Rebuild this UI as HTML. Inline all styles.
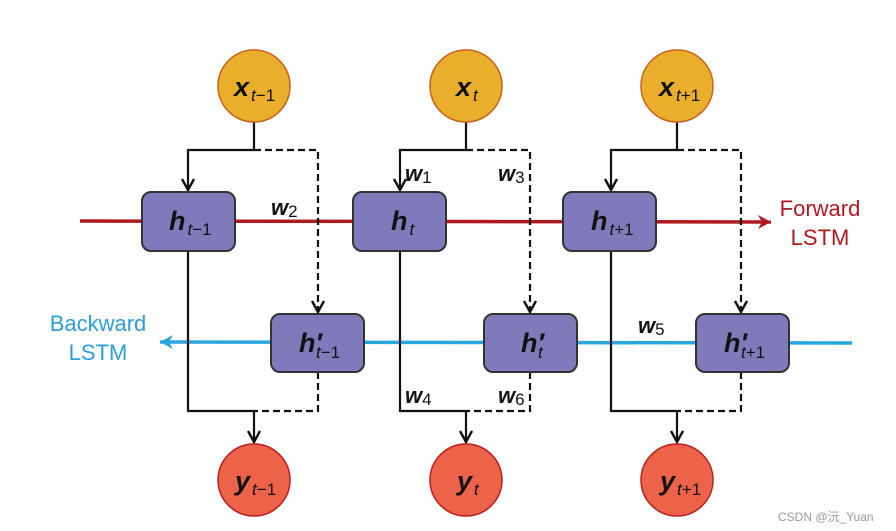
<!DOCTYPE html>
<html><head><meta charset="utf-8"><style>
body{margin:0;background:#fff}
svg{display:block}
text{font-family:"Liberation Sans",Arial,sans-serif}
.b{font-weight:bold;font-style:italic;font-size:27px;fill:#111}
.s{font-style:italic;font-weight:normal;font-size:17px;fill:#111}
.sn{font-style:normal;font-weight:normal;font-size:17px;fill:#111}
.w{font-weight:bold;font-style:italic;font-size:22px;fill:#111}
</style></head><body>
<svg width="896" height="531" viewBox="0 0 896 531" xmlns="http://www.w3.org/2000/svg">
<defs>
<marker id="ak" markerWidth="16" markerHeight="16" refX="12" refY="7" orient="auto" markerUnits="userSpaceOnUse"><path d="M1,1 L12,7 L1,13" fill="none" stroke="#111" stroke-width="2.4"/></marker>
<marker id="ar" markerWidth="16" markerHeight="16" refX="13" refY="7" orient="auto" markerUnits="userSpaceOnUse"><path d="M0,0 L13,7 L0,14 L4,7z" fill="#b0191e"/></marker>
<marker id="ab" markerWidth="16" markerHeight="16" refX="13" refY="7" orient="auto" markerUnits="userSpaceOnUse"><path d="M0,0 L13,7 L0,14 L4,7z" fill="#2aa7de"/></marker>
</defs>
<line x1="80" y1="221" x2="771" y2="222" stroke="#b0191e" stroke-width="3.5" marker-end="url(#ar)"/>
<line x1="852" y1="343" x2="160" y2="342" stroke="#2aa7de" stroke-width="3.5" marker-end="url(#ab)"/>
<g stroke="#111" stroke-width="2.2" fill="none">
<path d="M254 122 V150 H188 V190" marker-end="url(#ak)"/>
<path d="M254 150 H318 V312" stroke-dasharray="7,4" marker-end="url(#ak)"/>
<path d="M188 251 V411 H254"/>
<path d="M318 372 V411 H254" stroke-dasharray="7,4"/>
<path d="M254 411 V442" marker-end="url(#ak)"/>
<path d="M466 122 V150 H400 V190" marker-end="url(#ak)"/>
<path d="M466 150 H530 V312" stroke-dasharray="7,4" marker-end="url(#ak)"/>
<path d="M400 251 V411 H466"/>
<path d="M530 372 V411 H466" stroke-dasharray="7,4"/>
<path d="M466 411 V442" marker-end="url(#ak)"/>
<path d="M677 122 V150 H611 V190" marker-end="url(#ak)"/>
<path d="M677 150 H741 V312" stroke-dasharray="7,4" marker-end="url(#ak)"/>
<path d="M611 251 V411 H677"/>
<path d="M741 372 V411 H677" stroke-dasharray="7,4"/>
<path d="M677 411 V442" marker-end="url(#ak)"/>
</g>
<g fill="#7f7bba" stroke="#333" stroke-width="2">
<rect x="142" y="192" width="93" height="59" rx="9"/>
<rect x="353" y="192" width="93" height="59" rx="9"/>
<rect x="563" y="192" width="93" height="59" rx="9"/>
<rect x="271" y="314" width="93" height="58" rx="9"/>
<rect x="484" y="314" width="93" height="58" rx="9"/>
<rect x="696" y="314" width="93" height="58" rx="9"/>
</g>
<g fill="#e9ae2b" stroke="#c9621e" stroke-width="1.5">
<circle cx="254" cy="86" r="36"/><circle cx="466" cy="86" r="36"/><circle cx="677" cy="86" r="36"/>
</g>
<g fill="#ec634a" stroke="#b8201e" stroke-width="1.5">
<circle cx="254" cy="480" r="36"/><circle cx="466" cy="480" r="36"/><circle cx="677" cy="480" r="36"/>
</g>
<text x="234" y="96" class="b">x<tspan class="s" dy="5" dx="2">t</tspan><tspan class="sn">−1</tspan></text>
<text x="456" y="96" class="b">x<tspan class="s" dy="5" dx="2">t</tspan></text>
<text x="659" y="96" class="b">x<tspan class="s" dy="5" dx="2">t</tspan><tspan class="sn">+1</tspan></text>
<text x="235" y="490" class="b">y<tspan class="s" dy="5" dx="2">t</tspan><tspan class="sn">−1</tspan></text>
<text x="457" y="490" class="b">y<tspan class="s" dy="5" dx="2">t</tspan></text>
<text x="660" y="490" class="b">y<tspan class="s" dy="5" dx="2">t</tspan><tspan class="sn">+1</tspan></text>
<text x="169" y="230" class="b">h<tspan class="s" dy="5" dx="2">t</tspan><tspan class="sn">−1</tspan></text>
<text x="391" y="230" class="b">h<tspan class="s" dy="5" dx="2">t</tspan></text>
<text x="591" y="230" class="b">h<tspan class="s" dy="5" dx="2">t</tspan><tspan class="sn">+1</tspan></text>
<text x="299" y="352" class="b">h′<tspan class="s" dy="6" dx="-6">t</tspan><tspan class="sn">−1</tspan></text>
<text x="521" y="352" class="b">h′<tspan class="s" dy="6" dx="-6">t</tspan></text>
<text x="724" y="352" class="b">h′<tspan class="s" dy="6" dx="-6">t</tspan><tspan class="sn">+1</tspan></text>
<text x="405" y="181" class="w">w<tspan class="sn" dy="2">1</tspan></text>
<text x="498" y="181" class="w">w<tspan class="sn" dy="2">3</tspan></text>
<text x="271" y="215" class="w">w<tspan class="sn" dy="2">2</tspan></text>
<text x="405" y="403" class="w">w<tspan class="sn" dy="2">4</tspan></text>
<text x="498" y="403" class="w">w<tspan class="sn" dy="2">6</tspan></text>
<text x="638" y="333" class="w">w<tspan class="sn" dy="2">5</tspan></text>
<text x="820" y="216" text-anchor="middle" font-size="22" fill="#b0191e">Forward</text>
<text x="820" y="245" text-anchor="middle" font-size="22" fill="#b0191e">LSTM</text>
<text x="98" y="331" text-anchor="middle" font-size="22" fill="#2a9fd8">Backward</text>
<text x="98" y="360" text-anchor="middle" font-size="22" fill="#2a9fd8">LSTM</text>
<text x="778" y="521" font-size="12" fill="#999" style='font-family:"Liberation Sans","Noto Sans CJK SC",sans-serif'>CSDN @沅_Yuan</text>
</svg>
</body></html>
